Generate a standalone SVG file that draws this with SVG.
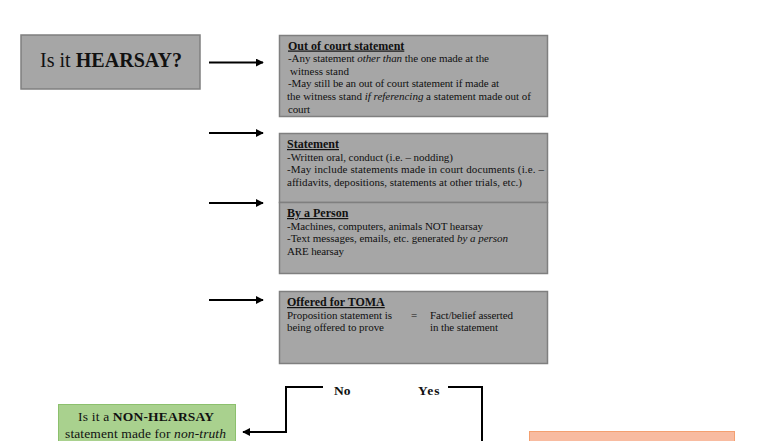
<svg xmlns="http://www.w3.org/2000/svg" width="784" height="441" viewBox="0 0 784 441">
<style>
.box{fill:#a6a6a6;stroke:#7f7f7f;stroke-width:1.5}
.t{font-family:"Liberation Serif","Times New Roman",serif;font-size:11px;fill:#111}
.hd{font-size:12px}
.h{text-decoration:underline;font-weight:bold}
.i{font-style:italic}
.b{font-weight:bold}
.ln{fill:none;stroke:#000;stroke-width:2}
</style>
<defs>
<marker id="ah" viewBox="0 0 10 10" refX="9" refY="5" markerWidth="4" markerHeight="4" orient="auto" markerUnits="strokeWidth">
<path d="M0,0 L10,5 L0,10 z" fill="#000"/>
</marker>
</defs>
<rect width="784" height="441" fill="#fff"/>
<g id="hearsay">
<rect class="box" x="21" y="35" width="179" height="54"/>
<text class="t" x="40" y="66.5" textLength="142" lengthAdjust="spacingAndGlyphs" style="font-size:20px">Is it <tspan class="b">HEARSAY?</tspan></text>
</g>
<g id="out-of-court">
<rect class="box" x="279.5" y="35.5" width="268" height="81"/>
<text class="t hd" x="288" y="49.5"><tspan class="h">Out of court statement </tspan></text>
<text class="t" x="288" y="62" textLength="201" lengthAdjust="spacing">-Any statement <tspan class="i">other than</tspan> the one made at the</text>
<text class="t" x="290" y="75" textLength="59" lengthAdjust="spacing">witness stand</text>
<text class="t" x="288" y="87" textLength="211" lengthAdjust="spacing">-May still be an out of court statement if made at</text>
<text class="t" x="287" y="100" textLength="244" lengthAdjust="spacing">the witness stand <tspan class="i">if referencing</tspan> a statement made out of</text>
<text class="t" x="288" y="112.5" textLength="22" lengthAdjust="spacing">court</text>
</g>
<g id="statement">
<rect class="box" x="279.5" y="133.5" width="268" height="69"/>
<text class="t hd" x="287" y="148"><tspan class="h">Statement</tspan></text>
<text class="t" x="287" y="160.5" textLength="166" lengthAdjust="spacing">-Written oral, conduct (i.e. – nodding)</text>
<text class="t" x="287" y="173" textLength="257" lengthAdjust="spacing">-May include statements made in court documents (i.e. –</text>
<text class="t" x="287" y="185.5" textLength="235" lengthAdjust="spacing">affidavits, depositions, statements at other trials, etc.)</text>
</g>
<g id="by-a-person">
<rect class="box" x="279.5" y="202.5" width="268" height="71"/>
<text class="t hd" x="287" y="217"><tspan class="h">By a Person </tspan></text>
<text class="t" x="287" y="229.5" textLength="196" lengthAdjust="spacing">-Machines, computers, animals NOT hearsay</text>
<text class="t" x="287" y="242" textLength="221" lengthAdjust="spacing">-Text messages, emails, etc. generated <tspan class="i">by a person</tspan></text>
<text class="t" x="287" y="254.5" textLength="57" lengthAdjust="spacing">ARE hearsay</text>
</g>
<g id="toma">
<rect class="box" x="279.5" y="291.5" width="268" height="72"/>
<text class="t hd" x="287" y="306"><tspan class="h">Offered for TOMA </tspan></text>
<text class="t" x="287" y="318.5" textLength="105" lengthAdjust="spacing">Proposition statement is</text>
<text class="t" x="287" y="331" textLength="97" lengthAdjust="spacing">being offered to prove</text>
<text class="t" x="411" y="318.5">=</text>
<text class="t" x="430" y="318.5" textLength="83" lengthAdjust="spacing">Fact/belief asserted</text>
<text class="t" x="430" y="331" textLength="68" lengthAdjust="spacing">in the statement</text>
</g>
<g id="non-hearsay">
<rect x="58.5" y="404.5" width="177" height="50" fill="#a9d18e" stroke="#8cc06d" stroke-width="1"/>
<text class="t" x="78" y="420.5" textLength="136" lengthAdjust="spacing" style="font-size:13.5px">Is it a <tspan class="b">NON-HEARSAY</tspan></text>
<text class="t" x="65" y="438" textLength="161" lengthAdjust="spacing" style="font-size:13.5px">statement made for <tspan class="i">non-truth</tspan></text>
</g>
<g id="orange">
<rect x="529.5" y="431.5" width="205" height="20" fill="#f8bba0" stroke="#f4a070" stroke-width="1"/>
</g>
<g id="labels">
<text class="t b" x="334" y="395" style="font-size:13.5px">No</text>
<text class="t b" x="418" y="395" style="font-size:13.5px;letter-spacing:1px">Yes</text>
</g>
<g id="connectors">
<line class="ln" x1="209" y1="62.5" x2="263" y2="62.5" marker-end="url(#ah)"/>
<line class="ln" x1="209" y1="133" x2="263" y2="133" marker-end="url(#ah)"/>
<line class="ln" x1="209" y1="203" x2="263" y2="203" marker-end="url(#ah)"/>
<line class="ln" x1="209" y1="300" x2="263" y2="300" marker-end="url(#ah)"/>
<polyline class="ln" points="323,387 286,387 286,432 243,432" marker-end="url(#ah)"/>
<polyline class="ln" points="448,387 482,387 482,441"/>
</g>
</svg>
